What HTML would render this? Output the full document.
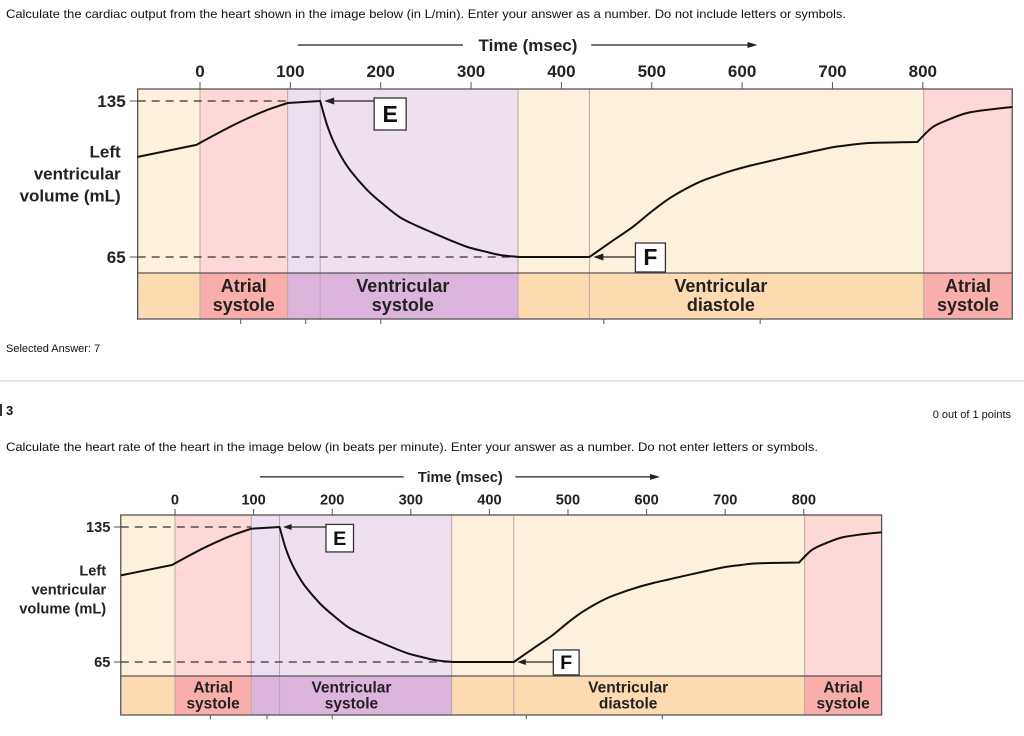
<!DOCTYPE html>
<html><head><meta charset="utf-8"><style>
html,body{margin:0;padding:0;background:#fff;width:1024px;height:736px;overflow:hidden}
svg{display:block;font-family:"Liberation Sans",Arial,sans-serif}
</style></head><body>
<svg id="s" width="1024" height="736" viewBox="0 0 1024 736">
<text x="6" y="18" font-size="12" textLength="840" lengthAdjust="spacingAndGlyphs" fill="#111">Calculate the cardiac output from the heart shown in the image below (in L/min). Enter your answer as a number.  Do not include letters or symbols.</text>
<text x="6" y="352" font-size="11" fill="#111">Selected Answer: 7</text>
<line x1="0" y1="381" x2="1024" y2="381" stroke="#ccc"/>
<rect x="0" y="404" width="2" height="12" fill="#333"/>
<text x="6" y="415" font-size="13" font-weight="bold" fill="#111">3</text>
<text x="1011" y="418" font-size="11" text-anchor="end" fill="#111">0 out of 1 points</text>
<text x="6" y="451" font-size="12" textLength="812" lengthAdjust="spacingAndGlyphs" fill="#111">Calculate the heart rate of the heart in the image below (in beats per minute).  Enter your answer as a number.  Do not enter letters or symbols.</text>
<g id="c1"></g>
<g id="c2"></g>
</svg>
<script>
const times=[-69,-4,15,37,56,74,97,133,140,147,156,166,185,203,221,240,258,277,296,314,332,354,431,455,479,498,517,535,553,571,590,609,628,646,665,683,701,720,738,766,794,811,830,849,874,899];
const volumes=[109.9,115.3,119.5,124.2,127.8,130.9,134.1,135,125,117.5,110.3,104,95.1,88.6,82.9,79,75.8,72.5,69.5,67.6,65.9,65,65,71.8,78.5,84.8,90.6,95,98.7,101.4,103.9,106,107.8,109.5,111.2,112.8,114.3,115.3,116.1,116.4,116.6,123.3,126.9,129.6,131.2,132.3];
const kinkTimes=[-4,97,133,354,431,794];
const xTicks=[0,100,200,300,400,500,600,700,800];
const yTicks=[135,65];
const phaseStarts=[-69,0,97,133,352,431,801];
const phaseEnds=[0,97,133,352,431,801,899];
const phaseFill=['#fdf0dd','#fdd8d7','#ecdff0','#efe0f0','#fdf0dd','#fdf0dd','#fdd8d7'];
const bandStarts=[-69,0,97,352,801];
const bandEnds=[0,97,352,801,899];
const bandFill=['#fddaaf','#f9aeab','#dbb5db','#fddaaf','#f9aeab'];
const bandLabels=[['',''],['Atrial','systole'],['Ventricular','systole'],['Ventricular','diastole'],['Atrial','systole']];
const NS='http://www.w3.org/2000/svg';
function mk(p,tag,at){const e=document.createElementNS(NS,tag);for(const k in at)e.setAttribute(k,at[k]);p.appendChild(e);return e;}
function smoothPath(pts,kinks){
  let d='M'+pts[0][0].toFixed(1)+' '+pts[0][1].toFixed(1);
  for(let i=0;i<pts.length-1;i++){
    const p1=pts[i],p2=pts[i+1];
    const p0=(i>0&&!kinks[i])?pts[i-1]:p1;
    const p3=(i+2<pts.length&&!kinks[i+1])?pts[i+2]:p2;
    const c1=[p1[0]+(p2[0]-p0[0])/6,p1[1]+(p2[1]-p0[1])/6];
    const c2=[p2[0]-(p3[0]-p1[0])/6,p2[1]-(p3[1]-p1[1])/6];
    d+=` C${c1[0].toFixed(1)} ${c1[1].toFixed(1)} ${c2[0].toFixed(1)} ${c2[1].toFixed(1)} ${p2[0].toFixed(1)} ${p2[1].toFixed(1)}`;
  }
  return d;
}
function draw(g,c){
  const X=t=>c.x0+t*c.sx, Y=v=>c.y65+(v-65)*(c.y135-c.y65)/70, f=c.f;
  const L=X(-69),R=X(899);
  phaseStarts.forEach((s,i)=>{const r=mk(g,'rect',{x:X(s),y:c.top,width:X(phaseEnds[i])-X(s),height:c.bt-c.top,fill:phaseFill[i]});
    
    });
  bandStarts.forEach((s,i)=>{const r=mk(g,'rect',{x:X(s),y:c.bt,width:X(bandEnds[i])-X(s),height:c.bot-c.bt,fill:bandFill[i]});
    
    
    const cx=(X(s)+X(bandEnds[i]))/2;
    bandLabels[i].forEach((w,j)=>{if(!w)return;const t=mk(g,'text',{x:cx,y:c.bt+(j?38:19)*f,'font-size':18*f,'font-weight':'bold','text-anchor':'middle',fill:'#222'});t.textContent=w;
      
      });});
  [0,97,133,352,431,801].forEach(t=>mk(g,'line',{x1:X(t),y1:c.top,x2:X(t),y2:c.bot,stroke:'#b9a8a8','stroke-width':1}));
  mk(g,'rect',{x:L,y:c.top,width:R-L,height:c.bot-c.top,fill:'none',stroke:'#555','stroke-width':1.3});
  mk(g,'line',{x1:L,y1:c.bt,x2:R,y2:c.bt,stroke:'#555','stroke-width':1.3});
  [45,117,200,447,620].forEach(t=>mk(g,'line',{x1:X(t),y1:c.bot,x2:X(t),y2:c.bot+5*f,stroke:'#555'}));
  const tt=mk(g,'text',{x:X(363),y:c.ty,'font-size':17*f,'font-weight':'bold','text-anchor':'middle',fill:'#222'});tt.textContent='Time (msec)';
  
  
  mk(g,'line',{x1:X(108),y1:c.ty-6*f,x2:X(291),y2:c.ty-6*f,stroke:'#222','stroke-width':1.2});
  mk(g,'line',{x1:X(433),y1:c.ty-6*f,x2:X(612),y2:c.ty-6*f,stroke:'#222','stroke-width':1.2});
  mk(g,'path',{d:`M${X(617)} ${c.ty-6*f} l-10 -3 v6z`,fill:'#222'});
  xTicks.forEach(t=>{const e=mk(g,'text',{x:X(t),y:c.top-12*f,'font-size':17*f,'font-weight':'bold','text-anchor':'middle',fill:'#222'});e.textContent=t;
    
    
    mk(g,'line',{x1:X(t),y1:c.top-7*f,x2:X(t),y2:c.top,stroke:'#555'});});
  yTicks.forEach(v=>{const e=mk(g,'text',{x:L-12*f,y:Y(v)+6*f,'font-size':17*f,'font-weight':'bold','text-anchor':'end',fill:'#222'});e.textContent=v;
    
    
    mk(g,'line',{x1:L-8*f,y1:Y(v),x2:L,y2:Y(v),stroke:'#555'});});
  ['Left','ventricular','volume (mL)'].forEach((w,j)=>{const e=mk(g,'text',{x:L-17*f,y:Y(112)+5*f+j*22*f,'font-size':17*f,'font-weight':'bold','text-anchor':'end',fill:'#222'});e.textContent=w;
    
    });
  mk(g,'line',{x1:L,y1:Y(135),x2:X(97),y2:Y(135),stroke:'#333','stroke-dasharray':'8 6','stroke-width':1.2});
  mk(g,'line',{x1:L,y1:Y(65),x2:X(431),y2:Y(65),stroke:'#333','stroke-dasharray':'8 6','stroke-width':1.2});
  const pts=times.map((t,i)=>[X(t),Y(volumes[i])]);
  const kinks=times.map(t=>kinkTimes.includes(t));
  const p=mk(g,'path',{d:smoothPath(pts,kinks),fill:'none',stroke:'#111','stroke-width':2,'stroke-linejoin':'round'});
  
  
  const ex=X(133),ey=Y(135);
  mk(g,'line',{x1:ex+8*f,y1:ey,x2:ex+54*f,y2:ey,stroke:'#222','stroke-width':1.3});
  mk(g,'path',{d:`M${ex+4*f} ${ey} l${10*f} -${3.5*f} v${7*f}z`,fill:'#222'});
  const eb=mk(g,'rect',{x:ex+54*f,y:ey-3*f,width:32*f,height:32*f,fill:'#fff',stroke:'#333','stroke-width':1.3});
  
  
  const et=mk(g,'text',{x:ex+70*f,y:ey+21*f,'font-size':23*f,'font-weight':'bold','text-anchor':'middle',fill:'#111'});et.textContent='E';
  
  
  const fx=X(431),fy=Y(65);
  mk(g,'line',{x1:fx+8*f,y1:fy,x2:fx+46*f,y2:fy,stroke:'#222','stroke-width':1.3});
  mk(g,'path',{d:`M${fx+4*f} ${fy} l${10*f} -${3.5*f} v${7*f}z`,fill:'#222'});
  const fb=mk(g,'rect',{x:fx+46*f,y:fy-14*f,width:30*f,height:29*f,fill:'#fff',stroke:'#333','stroke-width':1.3});
  
  
  const ft=mk(g,'text',{x:fx+61*f,y:fy+8*f,'font-size':23*f,'font-weight':'bold','text-anchor':'middle',fill:'#111'});ft.textContent='F';
  
  
}
draw(document.getElementById('c1'),{x0:200,sx:0.9035,y135:101,y65:257,top:89,bt:273,bot:319,ty:51,f:1});
draw(document.getElementById('c2'),{x0:175,sx:0.786,y135:527,y65:662,top:515,bt:676,bot:715,ty:482,f:0.86});
</script>
</body></html>
